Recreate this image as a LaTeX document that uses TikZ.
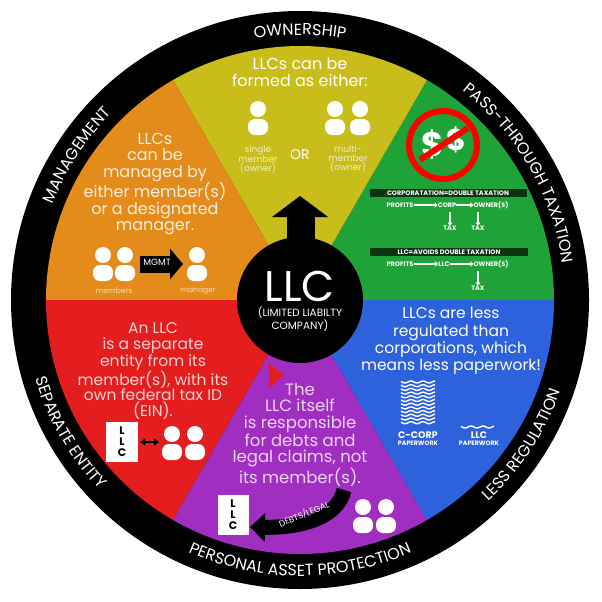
\documentclass[tikz,border=0pt]{standalone}
\usepackage{fontspec}
\setmainfont{Poppins}
\usetikzlibrary{decorations.text,arrows.meta}
\definecolor{cy}{HTML}{C8BD1B}
\definecolor{cg}{HTML}{1FA237}
\definecolor{cb}{HTML}{2E62DC}
\definecolor{cp}{HTML}{A02EC0}
\definecolor{cr}{HTML}{E41E1F}
\definecolor{co}{HTML}{E38C1B}
\definecolor{ban}{HTML}{0B3512}
\newcommand\ringfont{\fontsize{16}{16}\selectfont}
\begin{document}
\begin{tikzpicture}[x=1pt,y=1pt,
  toptext/.style={decorate,decoration={text along path,text align=center,text color=white,text={|\ringfont|#1}}},
  body/.style={align=center,font=\fontsize{16}{16.5}\selectfont},
  tiny/.style={font=\bfseries\fontsize{6.5}{7}\selectfont,text=white,inner sep=0pt},
  pics/person/.style={code={\fill[white] (0,9) circle (8);\fill[white,rounded corners=7] (-10,-17) rectangle (10,-1);}}]
\useasboundingbox (0,0) rectangle (602,-602);
\coordinate (O) at (300,-300);
\fill[black] (O) circle (289);
\fill[cg] (O) -- ++(0:254) arc[start angle=0,end angle=60,radius=254] -- cycle;
\fill[cy] (O) -- ++(60:254) arc[start angle=60,end angle=120,radius=254] -- cycle;
\fill[co] (O) -- ++(120:254) arc[start angle=120,end angle=180,radius=254] -- cycle;
\fill[cr] (O) -- ++(180:254) arc[start angle=180,end angle=240,radius=254] -- cycle;
\fill[cp] (O) -- ++(240:254) arc[start angle=240,end angle=300,radius=254] -- cycle;
\fill[cb] (O) -- ++(300:254) arc[start angle=300,end angle=360,radius=254] -- cycle;
% ring labels
\path[toptext={MANAGEMENT}] (O) ++(182:265) arc[start angle=182,end angle=112,radius=265];
\path[toptext={OWNERSHIP}] (O) ++(118:265) arc[start angle=118,end angle=62,radius=265];
\path[toptext={PASS-THROUGH TAXATION}] (O) ++(66:265) arc[start angle=66,end angle=-6,radius=265];
\path[toptext={LESS REGULATION}] (O) ++(-72:276) arc[start angle=-72,end angle=6,radius=276];
\path[toptext={PERSONAL ASSET PROTECTION}] (O) ++(-138:276) arc[start angle=-138,end angle=-42,radius=276];
\path[toptext={SEPARATE ENTITY}] (O) ++(170:276) arc[start angle=170,end angle=250,radius=276];
% centre
\fill[black] (287,-300) rectangle (315,-215);
\fill[black] (272,-217) -- (328,-217) -- (300,-196) -- cycle;
\node[circle,fill=black,minimum size=126pt,inner sep=0pt] (c) at (O) {};
\node[text=white,font=\fontsize{43}{43}\selectfont,inner sep=0pt] (llc) at (300,-286) {LLC};
\node[text=white,align=center,font=\fontsize{10.5}{12.5}\selectfont,inner sep=0pt] (llcs) at (300,-319) {(LIMITED LIABILTY\\COMPANY)};
% yellow
\node[body,text=white] (yt) at (300,-72) {LLCs can be\\formed as either:};
\pic (p1) at (258,-118) {person};
\pic at (335,-118) {person};
\pic at (360,-118) {person};
\node[align=center,text=cy!25!white,font=\fontsize{9}{9}\selectfont] (ys) at (258,-159) {single\\member\\(owner)};
\node[text=white,font=\fontsize{14}{14}\selectfont] (yor) at (300,-155) {OR};
\node[align=center,text=cy!25!white,font=\fontsize{9}{9}\selectfont] (ym) at (348,-159) {multi-\\member\\(owner)};
% green
\draw[red,line width=6] (443,-145) circle (34);
\node[text=white,font=\bfseries\fontsize{34}{34}\selectfont] (m1) at (433,-145) {\$};
\node[text=white,font=\bfseries\fontsize{30}{30}\selectfont] (m2) at (456,-140) {\$};
\draw[red,line width=6] (420,-160) -- (468,-128);
\node[fill=ban,minimum width=157pt,minimum height=8pt,tiny] (b1) at (448,-193) {CORPORATATION=DOUBLE TAXATION};
\node[tiny] (g1) at (400,-205) {PROFITS};
\node[tiny] (g2) at (447,-205) {CORP};
\node[tiny] (g3) at (491,-205) {OWNER(S)};
\node[tiny] (t1) at (450,-228) {TAX};
\node[tiny] (t2) at (478,-228) {TAX};
\draw[white,line width=1.6,-{Triangle[width=5pt,length=3pt]}] (g1) -- (g2);
\draw[white,line width=1.6,-{Triangle[width=5pt,length=3pt]}] (g2) -- (g3);
\draw[white,line width=1.6,-{Triangle[width=5pt,length=3pt]}] (450,-212) -- (t1);
\draw[white,line width=1.6,-{Triangle[width=5pt,length=3pt]}] (478,-212) -- (t2);
\node[fill=ban,minimum width=158pt,minimum height=8pt,tiny] (b2) at (449,-252) {LLC=AVOIDS DOUBLE TAXATION};
\node[tiny] (h1) at (400,-264) {PROFITS};
\node[tiny] (h2) at (444,-264) {LLC};
\node[tiny] (h3) at (491,-264) {OWNER(S)};
\node[tiny] (t3) at (478,-288) {TAX};
\draw[white,line width=1.6,-{Triangle[width=5pt,length=3pt]}] (h1) -- (h2);
\draw[white,line width=1.6,-{Triangle[width=5pt,length=3pt]}] (h2) -- (h3);
\draw[white,line width=1.6,-{Triangle[width=5pt,length=3pt]}] (478,-271) -- (t3);
% blue
\node[body,text=white,font=\fontsize{15.5}{17.2}\selectfont] (bt) at (451,-341) {LLCs are less\\regulated than\\corporations, which\\means less paperwork!};
\foreach \i in {0,...,11}
  \draw[white,line width=1.4] plot[domain=401:435,samples=24] (\x,{-382-\i*3.7+1*sin(\x*30)});
\draw[white,line width=1.4] plot[domain=461:494,samples=24] (\x,{-427+1*sin(\x*30)});
\node[align=center,text=white,inner sep=0pt,font=\bfseries\fontsize{9.5}{8}\selectfont] (cc) at (418,-439) {C-CORP\\[-1pt]{\fontsize{6.3}{6}\selectfont PAPERWORK}};
\node[align=center,text=white,inner sep=0pt,font=\bfseries\fontsize{9.5}{8}\selectfont] (lp) at (479,-439) {LLC\\[-1pt]{\fontsize{6.3}{6}\selectfont PAPERWORK}};
% purple
\node[body,text=cp!20!white,font=\fontsize{16.5}{16.6}\selectfont] (pt) at (300,-435) {The\\LLC itself\\is responsible\\for debts and\\legal claims, not\\its member(s).};
\node[fill=white,minimum width=31pt,minimum height=40pt,inner sep=0pt,align=center,font=\bfseries\fontsize{11}{11}\selectfont] (pb) at (233,-515) {L\\L\\C};
\draw[black,line width=15,-{Triangle[width=28pt,length=15pt]}] (344,-490) .. controls (338,-518) and (300,-528) .. (250,-527);
\node[text=white,rotate=22,font=\fontsize{8.5}{8.5}\selectfont] (dl) at (304,-514) {DEBTS/LEGAL};
\pic at (363,-516) {person};
\pic at (386,-516) {person};
% red
\fill[cr] (268,-363) -- (283,-374) -- (270,-388) -- cycle;
\node[body,text=cr!20!white,font=\fontsize{15.5}{15.3}\selectfont] (rt) at (153,-371) {An LLC\\is a separate\\entity from its\\member(s), with its\\own federal tax ID\\(EIN).};
\node[fill=white,minimum width=32pt,minimum height=40pt,inner sep=0pt,align=center,font=\bfseries\fontsize{11}{11}\selectfont] (rb) at (122,-442) {L\\L\\C};
\pic at (172,-443) {person};
\pic at (195,-443) {person};
\draw[black,line width=2.5,{Triangle[width=7pt,length=5pt]}-{Triangle[width=7pt,length=5pt]}] (rb.east) ++(2,0) -- (159,-442);
% orange
\node[body,text=co!15!white,font=\fontsize{16}{16.6}\selectfont] (ot) at (155,-184) {LLCs\\can be\\managed by\\either member(s)\\or a designated\\manager.};
\pic at (103,-264) {person};
\pic at (125,-264) {person};
\pic at (197,-264) {person};
\draw[black,line width=17,-{Triangle[width=30pt,length=13pt]}] (140,-264) -- (183,-264);
\node[text=white,font=\fontsize{9}{9}\selectfont,inner sep=0pt] (mg) at (157,-262) {MGMT};
\node[text=co!30!white,font=\fontsize{7.5}{7.5}\selectfont] (ml) at (114,-291) {members};
\node[text=co!30!white,font=\fontsize{7.5}{7.5}\selectfont] (mm) at (198,-291) {manager};
\end{tikzpicture}
\end{document}
